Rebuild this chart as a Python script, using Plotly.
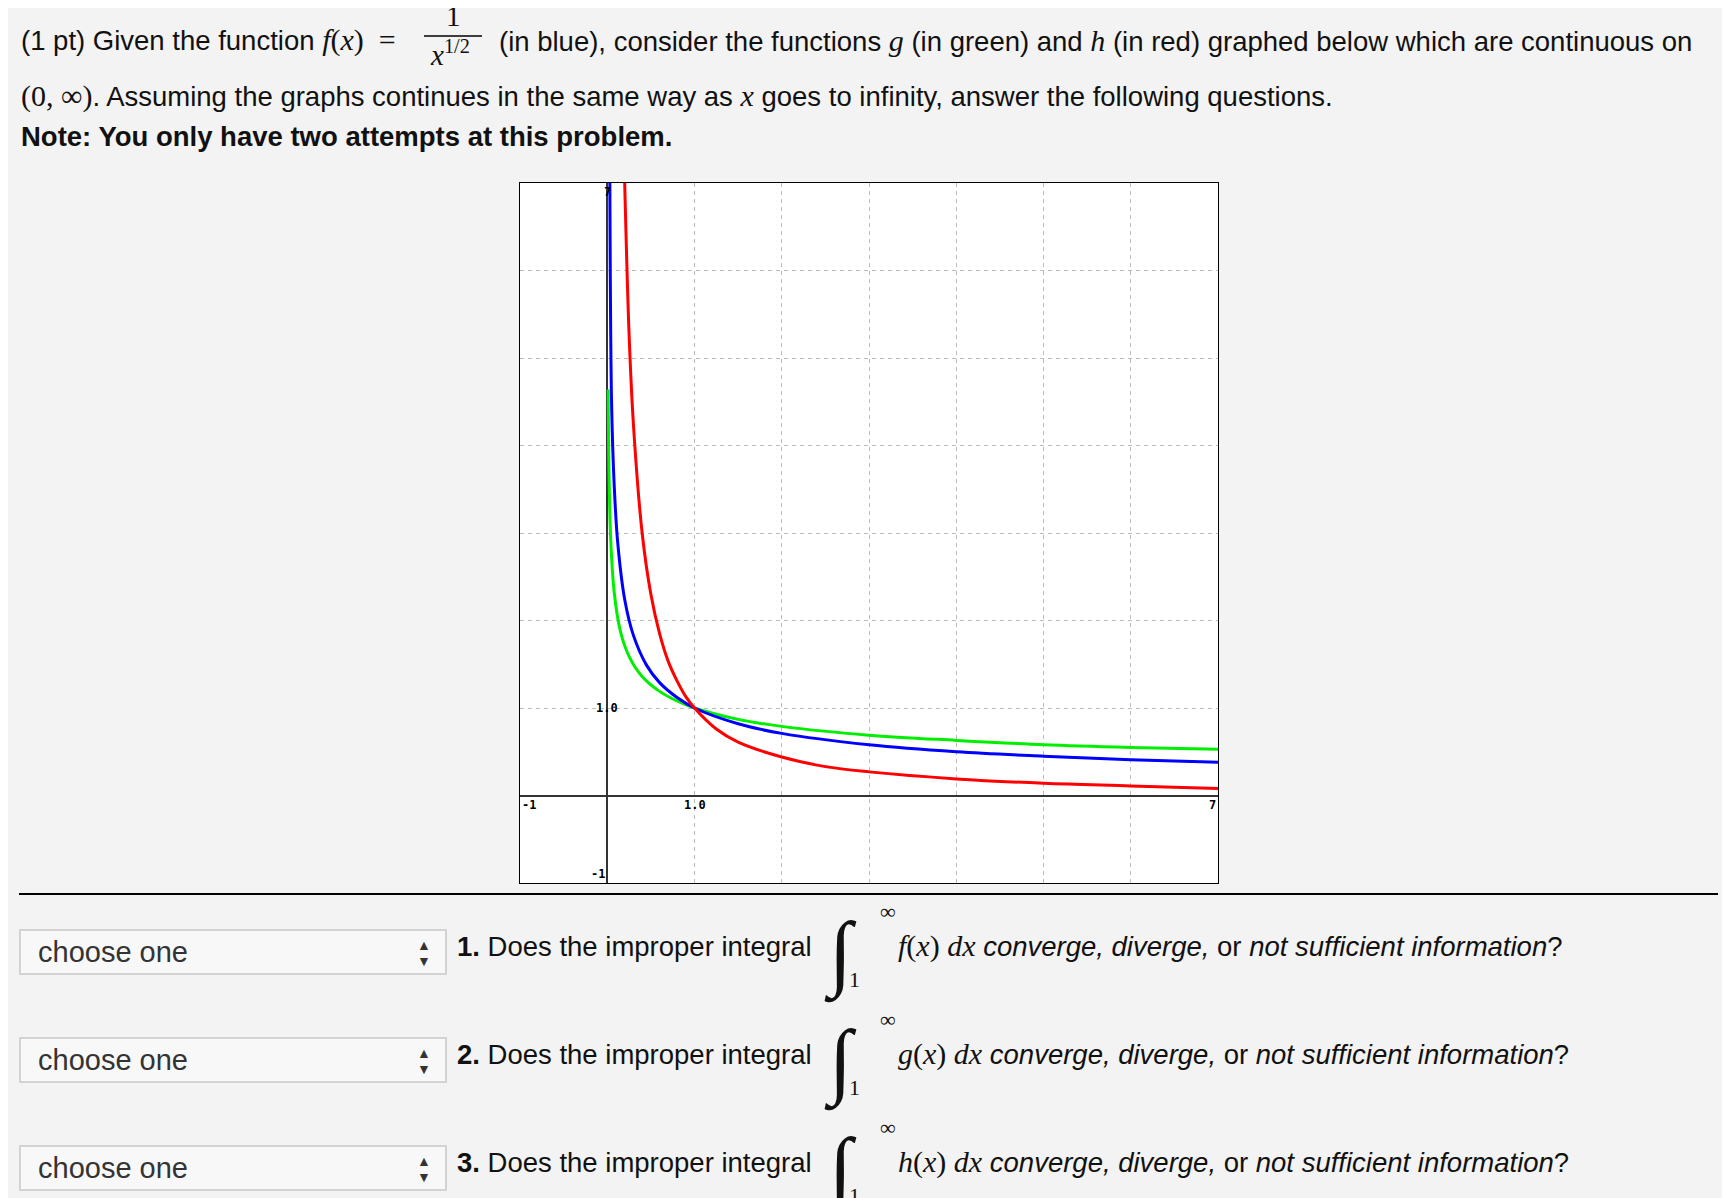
import plotly.graph_objects as go

# curve points
blue_x = [0.03, 0.05, 0.08, 0.12, 0.2, 0.3, 0.45, 0.6, 0.8, 1, 1.5, 2, 3, 4, 5, 6, 7]
blue_y = [7.0, 4.47, 3.54, 2.89, 2.24, 1.83, 1.49, 1.29, 1.12, 1.0, 0.82, 0.71, 0.58, 0.5, 0.45, 0.41, 0.38]
green_x = [0.01, 0.02, 0.04, 0.08, 0.15, 0.25, 0.4, 0.6, 0.8, 1, 1.5, 2, 3, 4, 5, 6, 7]
green_y = [4.64, 3.68, 2.92, 2.32, 1.88, 1.59, 1.36, 1.19, 1.08, 1.0, 0.87, 0.79, 0.69, 0.63, 0.58, 0.55, 0.53]
red_x = [0.2, 0.25, 0.3, 0.4, 0.5, 0.6, 0.7, 0.8, 0.9, 1, 1.25, 1.5, 2, 2.5, 3, 4, 5, 6, 7]
red_y = [7.0, 5.28, 4.24, 3.0, 2.3, 1.85, 1.53, 1.31, 1.13, 1.0, 0.76, 0.61, 0.44, 0.33, 0.27, 0.19, 0.14, 0.11, 0.08]

W, H = 1730, 1198
OFF = 8  # page margin of the browser
SANS = "Liberation Sans"
SERIF = "Liberation Serif"


def px(x):
    return (x - OFF) / W


def py(y):
    return 1 - (y - OFF) / H


fig = go.Figure()
for xs, ys, col in [(green_x, green_y, "#00ee00"), (blue_x, blue_y, "#0000ff"), (red_x, red_y, "#ff0000")]:
    fig.add_trace(go.Scatter(x=xs, y=ys, mode="lines", line=dict(color=col, width=3, shape="spline"),
                             showlegend=False, hoverinfo="skip"))

axis_style = dict(range=[-1, 7], dtick=1, showticklabels=False, zeroline=True, zerolinecolor="#333",
                  zerolinewidth=1.5, showgrid=True, gridcolor="#bbbbbb", griddash="4px,4px",
                  showline=True, linecolor="black", linewidth=1, mirror=True, fixedrange=True)
fig.update_layout(
    width=W, height=H, margin=dict(l=0, r=0, t=0, b=0),
    paper_bgcolor="#f3f3f3", plot_bgcolor="white",
    xaxis=dict(domain=[px(520), px(1218)], **axis_style),
    yaxis=dict(domain=[py(883), py(183)], **axis_style),
)

ann = []
# tick labels inside the graph
mono = dict(family="DejaVu Sans Mono", size=12, color="black")
for x, y, t, xa, ya in [(0, 1, "1.0", "center", "middle"), (1, 0, "1.0", "center", "top"),
                        (-1, 0, "-1", "left", "top"), (7, 0, "7", "right", "top"),
                        (0, -1, "-1", "right", "bottom"), (0, 7, "7", "center", "top")]:
    ann.append(dict(x=x, y=y, xref="x", yref="y", text="<b>" + t + "</b>", showarrow=False,
                    xanchor=xa, yanchor=ya, font=mono))


def text(x, y, t, size=27.5, family=SANS, xa="left", color="#111"):
    ann.append(dict(x=px(x), y=py(y), xref="paper", yref="paper", text=t, showarrow=False,
                    xanchor=xa, yanchor="middle", font=dict(family=family, size=size, color=color)))


def serif(t):
    return '<span style="font-family:Liberation Serif;font-size:30px"><i>' + t + '</i></span>'


def up(t):
    return '<span style="font-family:Liberation Serif;font-size:30px">' + t + '</span>'


text(19, 40, "(1 pt) Given the function " + serif("f") + up("(") + serif("x") + up(")&nbsp;&nbsp;=&nbsp;"))
text(453, 16, "1", size=29, family=SERIF, xa="center")
text(450, 53, "<i>x</i><sup>1/2</sup>", size=29, family=SERIF, xa="center")
text(497, 40, "(in blue), consider the functions " + serif("g") + " (in green) and " + serif("h")
     + " (in red) graphed below which are continuous on")
text(19, 96, up("(0, ∞)") + ". Assuming the graphs continues in the same way as "
     + serif("x") + " goes to infinity, answer the following questions.")
text(19, 136, "<b>Note: You only have two attempts at this problem.</b>")

shapes = [dict(type="line", xref="paper", yref="paper", x0=px(19), x1=px(1718), y0=py(894), y1=py(894),
               line=dict(color="black", width=2)),
          dict(type="line", xref="paper", yref="paper", x0=px(424), x1=px(482), y0=py(36), y1=py(36),
               line=dict(color="black", width=1.5))]

rows = [(952, "1.", "f"), (1060, "2.", "g"), (1168, "3.", "h")]
for y, num, fn in rows:
    shapes.append(dict(type="rect", xref="paper", yref="paper", x0=px(20), x1=px(446), y0=py(y - 22),
                       y1=py(y + 22), line=dict(color="#c8c8c8", width=1.5), fillcolor="#f8f8f8"))
    text(36, y, "choose one", size=29, color="#333")
    text(424, y - 7, "▲", size=14, xa="center", color="#333")
    text(424, y + 9, "▼", size=14, xa="center", color="#333")
    text(455, y - 6, "<b>" + num + "</b> Does the improper integral")
    text(840, y + 2, "∫", size=84, family=SERIF, xa="center")
    text(878, y - 41, "∞", size=22, family=SERIF)
    text(847, y + 27, "1", size=22, family=SERIF)
    text(896, y - 6, serif(fn) + up("(") + serif("x") + up(")&nbsp;") + serif("dx")
         + " <i>converge, diverge,</i> or <i>not sufficient information</i>?")

fig.update_layout(annotations=ann, shapes=shapes)
fig.write_html("out.html")
